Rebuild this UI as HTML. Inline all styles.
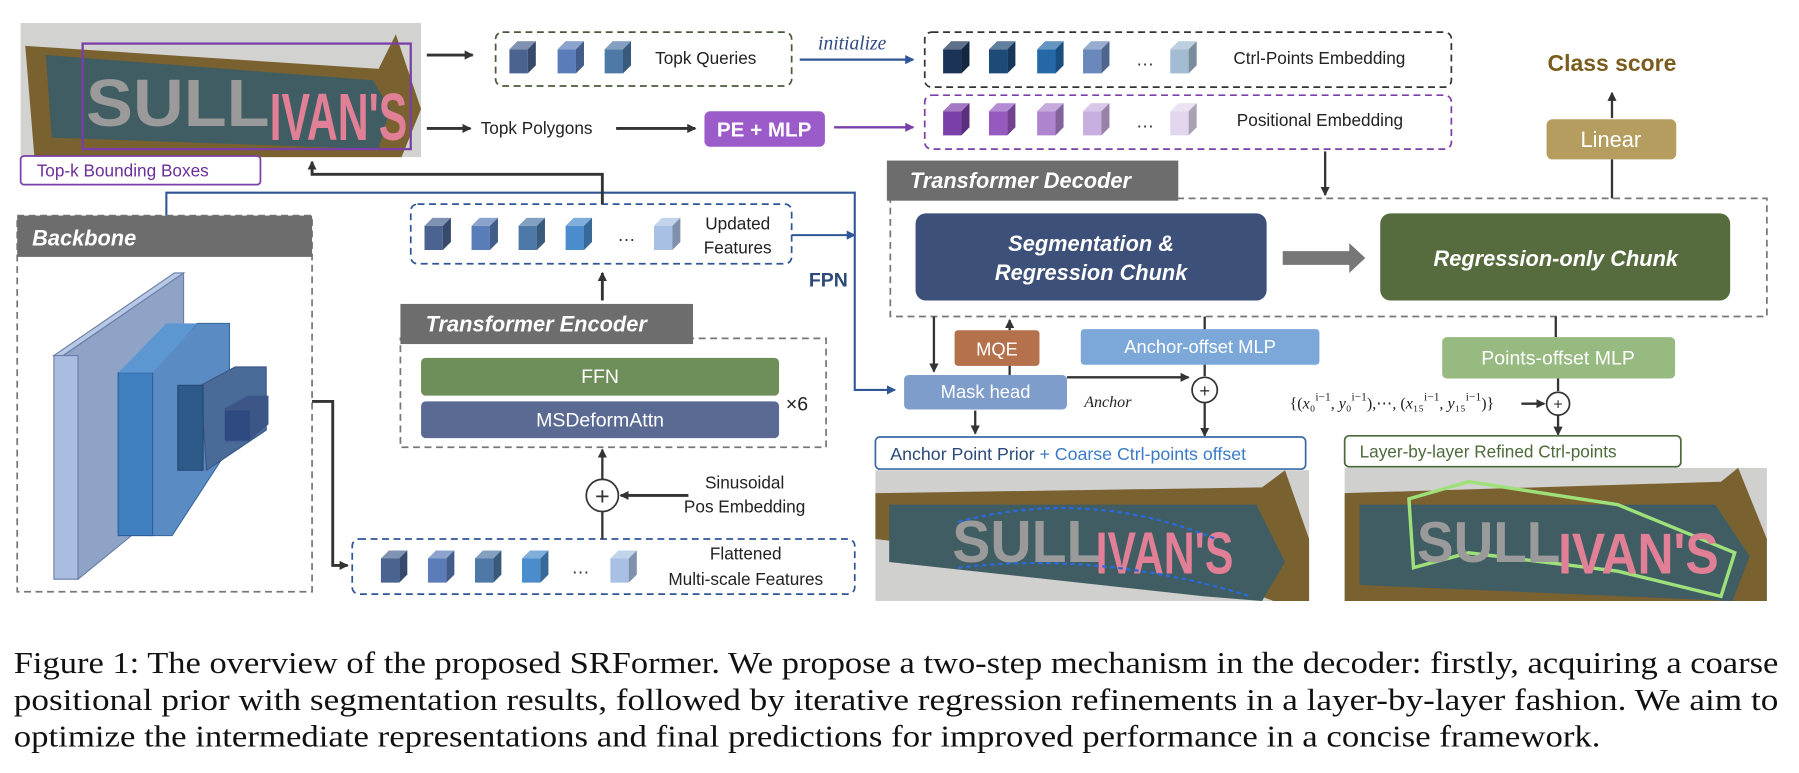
<!DOCTYPE html>
<html><head><meta charset="utf-8"><style>
html,body{margin:0;padding:0;background:#fff;width:1799px;height:773px;overflow:hidden}
svg{display:block}
text{font-family:"Liberation Sans","DejaVu Sans",sans-serif}
.cap{font-family:"Liberation Serif",serif;font-size:27px;fill:#111}
.hd{font-weight:bold;font-style:italic;fill:#fff;font-size:19px}
</style></head><body>
<svg width="1799" height="773" viewBox="0 0 1568 674" preserveAspectRatio="none" xmlns="http://www.w3.org/2000/svg">
<defs>
<g id="cube"><polygon points="0,7 16,7 16,28 0,28" fill="currentColor"/><polygon points="0,7 7,0 23,0 16,7" fill="currentColor"/><polygon points="0,7 7,0 23,0 16,7" fill="#fff" opacity=".3"/><polygon points="16,7 23,0 23,21 16,28" fill="currentColor"/><polygon points="16,7 23,0 23,21 16,28" fill="#000" opacity=".25"/></g>
<marker id="ak" markerWidth="8" markerHeight="8" refX="7" refY="4" orient="auto" markerUnits="userSpaceOnUse"><path d="M0,0 L8,4 L0,8z" fill="#333"/></marker>
<marker id="ab" markerWidth="8" markerHeight="8" refX="7" refY="4" orient="auto" markerUnits="userSpaceOnUse"><path d="M0,0 L8,4 L0,8z" fill="#2f5597"/></marker>
<marker id="ap" markerWidth="8" markerHeight="8" refX="7" refY="4" orient="auto" markerUnits="userSpaceOnUse"><path d="M0,0 L8,4 L0,8z" fill="#7a3fa8"/></marker>
<g id="sign">
<rect x="0" y="0" width="100" height="100" fill="#cfcfcf"/>
</g>
</defs>

<!-- top image -->
<rect x="18" y="20" width="349" height="117" fill="#d2d2d0"/>
<polygon points="22,40 330,60 345,30 367,95 350,137 30,137" fill="#7a6130"/>
<polygon points="40,48 325,70 340,95 330,130 45,120" fill="#3f5d62"/>
<text x="75" y="110" font-size="58" font-weight="bold" fill="#9a9a9a" textLength="160" lengthAdjust="spacingAndGlyphs">SULL</text>
<text x="235" y="122" font-size="58" font-weight="bold" fill="#e07f95" textLength="120" lengthAdjust="spacingAndGlyphs">IVAN'S</text>
<rect x="72" y="38" width="286" height="92" fill="none" stroke="#7a3fa8" stroke-width="2"/>
<rect x="18" y="136" width="209" height="25" rx="3" fill="#fff" stroke="#7a3fa8" stroke-width="1.5"/>
<text x="32" y="154" font-size="15" fill="#6a2f98">Top-k Bounding Boxes</text>

<line x1="372" y1="48" x2="412" y2="48" stroke="#333" stroke-width="2.5" marker-end="url(#ak)"/>
<line x1="372" y1="112" x2="410" y2="112" stroke="#333" stroke-width="2.5" marker-end="url(#ak)"/>
<text x="419" y="117" font-size="15" fill="#222">Topk Polygons</text>
<line x1="537" y1="112" x2="606" y2="112" stroke="#333" stroke-width="2.5" marker-end="url(#ak)"/>
<rect x="614" y="97" width="105" height="31" rx="5" fill="#9b5bc9"/>
<text x="666" y="119" font-size="18" font-weight="bold" fill="#fff" text-anchor="middle">PE + MLP</text>
<line x1="727" y1="111" x2="796" y2="111" stroke="#7a3fa8" stroke-width="2" marker-end="url(#ap)"/>

<!-- Topk queries -->
<rect x="432" y="28" width="258" height="47" rx="6" fill="none" stroke="#4b5a3a" stroke-width="1.5" stroke-dasharray="6,4"/>
<use href="#cube" x="444" y="36" style="color:#4a6390"/>
<use href="#cube" x="486" y="36" style="color:#5a7cb8"/>
<use href="#cube" x="527" y="36" style="color:#4e78a6"/>
<text x="571" y="56" font-size="15" fill="#222">Topk Queries</text>
<text x="713" y="43" font-size="17" font-style="italic" fill="#2f4a80" font-family="Liberation Serif,serif" style="font-family:'Liberation Serif',serif">initialize</text>
<line x1="697" y1="52" x2="796" y2="52" stroke="#2f5597" stroke-width="2" marker-end="url(#ab)"/>

<rect x="806" y="28" width="459" height="48" rx="6" fill="none" stroke="#333" stroke-width="1.5" stroke-dasharray="6,4"/>
<use href="#cube" x="822" y="36" style="color:#1c3358"/>
<use href="#cube" x="862" y="36" style="color:#1e4a78"/>
<use href="#cube" x="904" y="36" style="color:#2468a8"/>
<use href="#cube" x="944" y="36" style="color:#6a88bb"/>
<text x="990" y="57" font-size="16" fill="#333">…</text>
<use href="#cube" x="1020" y="36" style="color:#a3bcd3"/>
<text x="1075" y="56" font-size="15" fill="#222">Ctrl-Points Embedding</text>

<rect x="806" y="83" width="459" height="47" rx="6" fill="none" stroke="#7a3fa8" stroke-width="1.5" stroke-dasharray="6,4"/>
<use href="#cube" x="822" y="90" style="color:#7a3fa8"/>
<use href="#cube" x="862" y="90" style="color:#9659c0"/>
<use href="#cube" x="904" y="90" style="color:#ae84cf"/>
<use href="#cube" x="944" y="90" style="color:#c8afdf"/>
<text x="990" y="111" font-size="16" fill="#333">…</text>
<use href="#cube" x="1020" y="90" style="color:#e2d6ee"/>
<text x="1078" y="110" font-size="15" fill="#222">Positional Embedding</text>
<line x1="1155" y1="132" x2="1155" y2="170" stroke="#333" stroke-width="2" marker-end="url(#ak)"/>

<!-- class score -->
<text x="1405" y="62" font-size="20" font-weight="bold" fill="#7a5d1c" text-anchor="middle">Class score</text>
<line x1="1405" y1="103" x2="1405" y2="81" stroke="#333" stroke-width="2" marker-end="url(#ak)"/>
<rect x="1348" y="104" width="113" height="35" rx="5" fill="#b49d5e"/>
<text x="1404" y="128" font-size="19" fill="#fff" text-anchor="middle">Linear</text>
<line x1="1405" y1="139" x2="1405" y2="173" stroke="#333" stroke-width="2"/>

<!-- decoder -->
<rect x="776" y="173" width="764" height="103" fill="none" stroke="#777" stroke-width="1.5" stroke-dasharray="6,4"/>
<rect x="773" y="140" width="254" height="35" fill="#6e6d6d"/>
<text x="793" y="164" class="hd">Transformer Decoder</text>
<rect x="798" y="186" width="306" height="76" rx="9" fill="#3d5079"/>
<text x="951" y="219" class="hd" text-anchor="middle">Segmentation &amp;</text>
<text x="951" y="244" class="hd" text-anchor="middle">Regression Chunk</text>
<polygon points="1118,219 1176,219 1176,212 1190,225 1176,238 1176,231 1118,231" fill="#777"/>
<rect x="1203" y="186" width="305" height="76" rx="9" fill="#566b3e"/>
<text x="1356" y="232" class="hd" text-anchor="middle">Regression-only Chunk</text>

<!-- under decoder left -->
<line x1="814" y1="276" x2="814" y2="324" stroke="#333" stroke-width="2" marker-end="url(#ak)"/>
<line x1="880" y1="288" x2="880" y2="279" stroke="#333" stroke-width="2" marker-end="url(#ak)"/>
<line x1="880" y1="318" x2="880" y2="327" stroke="#333" stroke-width="2"/>
<rect x="832" y="288" width="74" height="31" rx="3" fill="#b4714c"/>
<text x="869" y="310" font-size="16" fill="#fff" text-anchor="middle">MQE</text>
<rect x="942" y="287" width="208" height="31" rx="3" fill="#7ba8d8"/>
<text x="1046" y="308" font-size="16" fill="#fff" text-anchor="middle">Anchor-offset MLP</text>
<line x1="1050" y1="276" x2="1050" y2="287" stroke="#333" stroke-width="2"/>
<line x1="1050" y1="318" x2="1050" y2="328" stroke="#333" stroke-width="2"/>
<circle cx="1050" cy="340" r="11" fill="#fff" stroke="#333" stroke-width="1.5"/>
<text x="1050" y="346" font-size="16" text-anchor="middle" fill="#333">+</text>
<line x1="1050" y1="351" x2="1050" y2="380" stroke="#333" stroke-width="2" marker-end="url(#ak)"/>
<rect x="788" y="327" width="142" height="30" rx="4" fill="#7f9dcb"/>
<text x="859" y="347" font-size="16" fill="#fff" text-anchor="middle">Mask head</text>
<line x1="930" y1="329" x2="1036" y2="329" stroke="#333" stroke-width="2" marker-end="url(#ak)"/>
<text x="945" y="355" font-size="14" font-style="italic" fill="#222" style="font-family:'Liberation Serif',serif">Anchor</text>
<line x1="850" y1="358" x2="850" y2="378" stroke="#333" stroke-width="2" marker-end="url(#ak)"/>
<rect x="763" y="381" width="375" height="28" rx="4" fill="#fff" stroke="#3a6aa8" stroke-width="1.5"/>
<text x="776" y="401" font-size="15.5" fill="#2a4a7a">Anchor Point Prior <tspan fill="#3a7ac8">+ Coarse Ctrl-points offset</tspan></text>

<!-- bottom image 1 -->
<rect x="763" y="410" width="378" height="114" fill="#d0d0ce"/>
<polygon points="763,430 1100,425 1120,410 1141,470 1141,524 1110,524 1060,505 763,470" fill="#7a6130"/>
<polygon points="775,440 1095,440 1120,490 1100,524 1050,520 775,490" fill="#3f5d62"/>
<text x="830" y="490" font-size="52" font-weight="bold" fill="#9a9a9a" textLength="130" lengthAdjust="spacingAndGlyphs">SULL</text>
<text x="955" y="500" font-size="52" font-weight="bold" fill="#e07f95" textLength="120" lengthAdjust="spacingAndGlyphs">IVAN'S</text>
<path d="M835,455 Q950,425 1060,470 M835,495 Q960,480 1090,520" stroke="#2a6ad8" stroke-width="2" stroke-dasharray="4,3" fill="none"/>

<!-- right under decoder -->
<line x1="1356" y1="276" x2="1356" y2="294" stroke="#333" stroke-width="2"/>
<rect x="1257" y="294" width="203" height="36" rx="4" fill="#96ba80"/>
<text x="1358" y="318" font-size="17" fill="#fff" text-anchor="middle">Points-offset MLP</text>
<line x1="1358" y1="330" x2="1358" y2="341" stroke="#333" stroke-width="2"/>
<circle cx="1358" cy="352" r="10" fill="#fff" stroke="#333" stroke-width="1.5"/>
<text x="1358" y="357" font-size="14" text-anchor="middle" fill="#333">+</text>
<text x="1124" y="356" font-size="14" fill="#222" style="font-family:'Liberation Serif',serif">{(<tspan font-style="italic">x</tspan>₀<tspan font-size="10" dy="-7">i−1</tspan><tspan dy="7">, </tspan><tspan font-style="italic">y</tspan>₀<tspan font-size="10" dy="-7">i−1</tspan><tspan dy="7">),⋯, (</tspan><tspan font-style="italic">x</tspan>₁₅<tspan font-size="10" dy="-7">i−1</tspan><tspan dy="7">, </tspan><tspan font-style="italic">y</tspan>₁₅<tspan font-size="10" dy="-7">i−1</tspan><tspan dy="7">)}</tspan></text>
<line x1="1326" y1="352" x2="1346" y2="352" stroke="#333" stroke-width="2" marker-end="url(#ak)"/>
<line x1="1358" y1="362" x2="1358" y2="379" stroke="#333" stroke-width="2" marker-end="url(#ak)"/>
<rect x="1172" y="380" width="293" height="27" rx="4" fill="#fff" stroke="#4c6a3a" stroke-width="1.5"/>
<text x="1185" y="399" font-size="15" fill="#4c6a3a">Layer-by-layer Refined Ctrl-points</text>

<!-- bottom image 2 -->
<rect x="1172" y="408" width="368" height="116" fill="#d0d0ce"/>
<polygon points="1172,430 1500,420 1515,408 1540,470 1540,524 1172,524" fill="#7a6130"/>
<polygon points="1185,440 1495,440 1525,485 1510,524 1185,510" fill="#3f5d62"/>
<polygon points="1228,435 1280,420 1410,440 1512,482 1500,520 1410,498 1280,482 1232,495" fill="none" stroke="#9ee07a" stroke-width="3"/>
<text x="1235" y="490" font-size="50" font-weight="bold" fill="#9a9a9a" textLength="125" lengthAdjust="spacingAndGlyphs">SULL</text>
<text x="1358" y="500" font-size="50" font-weight="bold" fill="#e07f95" textLength="140" lengthAdjust="spacingAndGlyphs">IVAN'S</text>

<!-- FPN -->
<polyline points="145,188 145,168 745,168 745,340 780,340" fill="none" stroke="#2f5597" stroke-width="1.8" marker-end="url(#ab)"/>
<line x1="690" y1="205" x2="745" y2="205" stroke="#2f5597" stroke-width="1.8" marker-end="url(#ab)"/>
<text x="705" y="250" font-size="17" font-weight="bold" fill="#2b4a7a">FPN</text>

<!-- backbone -->
<rect x="15" y="188" width="257" height="328" fill="none" stroke="#777" stroke-width="1.5" stroke-dasharray="6,4"/>
<rect x="15" y="188" width="257" height="36" fill="#6e6d6d"/>
<text x="28" y="214" class="hd">Backbone</text>
<polygon points="55,310 160,238 160,430 68,505" fill="#8fa3c7" stroke="#6a7ea8"/>
<polygon points="47,310 55,310 160,238 152,238" fill="#b8c9e6" stroke="#6a7ea8"/>
<rect x="47" y="310" width="21" height="195" fill="#a8bde0" stroke="#6a7ea8"/>
<polygon points="130,325 172,282 200,282 200,390 150,467 130,467" fill="#5a8bc2" stroke="#3a6aa0"/>
<rect x="103" y="325" width="30" height="142" fill="#3f7fc0" stroke="#2e5f9a"/>
<polygon points="103,325 145,282 172,282 133,325" fill="#5d97d2"/>
<polygon points="175,336 205,320 232,320 232,375 180,410" fill="#4a6a98" stroke="#3a5888"/>
<rect x="155" y="336" width="22" height="74" fill="#2e5a8a" stroke="#264a74"/>
<polygon points="196,356 216,345 234,345 234,370 216,385 196,385" fill="#3c5688"/>
<rect x="196" y="358" width="22" height="26" fill="#2e4a80"/>
<polyline points="272,350 290,350 290,493 303,493" fill="none" stroke="#333" stroke-width="2.5" marker-end="url(#ak)"/>

<!-- flattened -->
<rect x="307" y="470" width="438" height="48" rx="6" fill="none" stroke="#2f5597" stroke-width="1.5" stroke-dasharray="6,4"/>
<use href="#cube" x="332" y="480" style="color:#4a6390"/>
<use href="#cube" x="373" y="480" style="color:#5a7cb8"/>
<use href="#cube" x="414" y="480" style="color:#4e78a6"/>
<use href="#cube" x="455" y="480" style="color:#4a8ccc"/>
<text x="498" y="500" font-size="16" fill="#333">…</text>
<use href="#cube" x="532" y="480" style="color:#a8c0e4"/>
<text x="650" y="488" font-size="15" fill="#222" text-anchor="middle">Flattened</text>
<text x="650" y="510" font-size="15" fill="#222" text-anchor="middle">Multi-scale Features</text>

<line x1="525" y1="470" x2="525" y2="446" stroke="#333" stroke-width="2"/>
<circle cx="525" cy="432" r="14" fill="#fff" stroke="#333" stroke-width="1.5"/>
<text x="525" y="440" font-size="22" text-anchor="middle" fill="#333">+</text>
<line x1="600" y1="432" x2="541" y2="432" stroke="#333" stroke-width="2.5" marker-end="url(#ak)"/>
<text x="649" y="426" font-size="15" fill="#222" text-anchor="middle">Sinusoidal</text>
<text x="649" y="447" font-size="15" fill="#222" text-anchor="middle">Pos Embedding</text>
<line x1="525" y1="418" x2="525" y2="392" stroke="#333" stroke-width="2" marker-end="url(#ak)"/>

<!-- encoder -->
<rect x="349" y="295" width="371" height="95" fill="none" stroke="#777" stroke-width="1.5" stroke-dasharray="6,4"/>
<rect x="349" y="265" width="255" height="35" fill="#6e6d6d"/>
<text x="371" y="289" class="hd">Transformer Encoder</text>
<rect x="367" y="312" width="312" height="33" rx="4" fill="#6f8f5a"/>
<text x="523" y="334" font-size="17" fill="#fff" text-anchor="middle">FFN</text>
<rect x="367" y="350" width="312" height="32" rx="4" fill="#5a6a92"/>
<text x="523" y="372" font-size="17" fill="#fff" text-anchor="middle">MSDeformAttn</text>
<text x="685" y="358" font-size="17" fill="#222">×6</text>
<line x1="525" y1="262" x2="525" y2="238" stroke="#333" stroke-width="2.5" marker-end="url(#ak)"/>

<!-- updated features -->
<rect x="358" y="178" width="332" height="52" rx="6" fill="none" stroke="#2f5597" stroke-width="1.5" stroke-dasharray="6,4"/>
<use href="#cube" x="370" y="190" style="color:#4a6390"/>
<use href="#cube" x="411" y="190" style="color:#5a7cb8"/>
<use href="#cube" x="452" y="190" style="color:#4e78a6"/>
<use href="#cube" x="493" y="190" style="color:#4a8ccc"/>
<text x="538" y="210" font-size="16" fill="#333">…</text>
<use href="#cube" x="570" y="190" style="color:#a8c0e4"/>
<text x="643" y="200" font-size="15" fill="#222" text-anchor="middle">Updated</text>
<text x="643" y="221" font-size="15" fill="#222" text-anchor="middle">Features</text>
<polyline points="525,178 525,152 272,152 272,141" fill="none" stroke="#333" stroke-width="2.5" marker-end="url(#ak)"/>

<!-- caption -->
<text class="cap" x="12" y="587" textLength="1538" lengthAdjust="spacingAndGlyphs">Figure 1: The overview of the proposed SRFormer. We propose a two-step mechanism in the decoder: firstly, acquiring a coarse</text>
<text class="cap" x="12" y="619" textLength="1538" lengthAdjust="spacingAndGlyphs">positional prior with segmentation results, followed by iterative regression refinements in a layer-by-layer fashion. We aim to</text>
<text class="cap" x="12" y="651" textLength="1383" lengthAdjust="spacingAndGlyphs">optimize the intermediate representations and final predictions for improved performance in a concise framework.</text>
</svg>
</body></html>
